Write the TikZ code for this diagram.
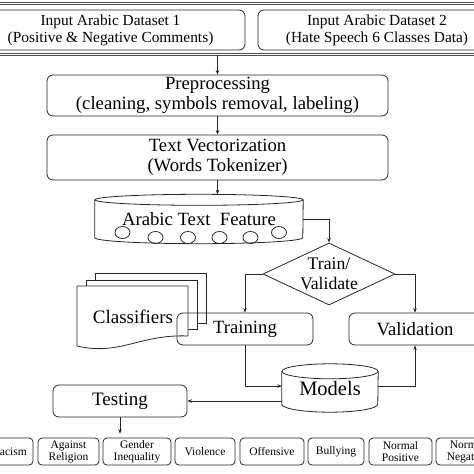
\documentclass[tikz,border=0pt]{standalone}
\usepackage{fontspec}
\setmainfont{Liberation Serif}
\usetikzlibrary{shapes.geometric,arrows.meta,positioning}
\begin{document}
\begin{tikzpicture}[x=1pt,y=-1pt,box/.style={shape=rectangle,draw=black!85,line width=0.8pt,rounded corners=6pt,inner sep=0pt,align=center,font=\fontsize{18.7}{20.5}\selectfont},dbox/.style={box,font=\fontsize{15.4}{17}\selectfont},cbox/.style={box,rounded corners=4pt,minimum height=27pt,font=\fontsize{11.5}{12}\selectfont},frame/.style={draw=black!70,line width=0.6pt,double,double distance=1.6pt},store/.style={shape=rectangle,inner sep=0pt,align=center,font=\fontsize{18.7}{20.5}\selectfont},decide/.style={shape=diamond,draw=black!85,line width=0.8pt,inner sep=0pt},line/.style={draw=black!85,line width=0.8pt},arr/.style={line,-{Stealth[length=4.5pt,width=3.5pt]}},page/.style={line,fill=white}]
\useasboundingbox (0,0) rectangle (474,474);

% inputs
\node[frame,minimum width=520pt,minimum height=51pt] (inputs) at (237,29) {};
\node[dbox,minimum width=269pt,minimum height=40pt] (ds1) at (110.5,30) {Input Arabic Dataset 1\\(Positive \& Negative Comments)};
\node[dbox,minimum width=238pt,minimum height=40pt] (ds2) at (377,30) {Input Arabic Dataset 2\\(Hate Speech 6 Classes Data)};

\node[box,minimum width=341pt,minimum height=41pt] (pre) at (217.5,95.5) {Preprocessing\\(cleaning, symbols removal, labeling)};
\draw[arr] (pre.north |- inputs.south) -- (pre.north);
\node[box,minimum width=341pt,minimum height=45pt] (vec) at (217.5,157.5) {Text Vectorization\\(Words Tokenizer)};
\draw[arr] (pre.south) -- (vec.north);

% feature store
\node[store,minimum width=208pt,minimum height=49pt] (feat) at (199,219) {Arabic Text\ \ Feature};
\draw[line] ([yshift=-5.5pt]feat.north) ellipse[x radius=104,y radius=5.5];
\draw[line] ([yshift=-5.5pt]feat.north west) -- ([yshift=6pt]feat.south west) arc[start angle=180,end angle=0,x radius=104,y radius=6] -- ([yshift=-5.5pt]feat.north east);
\foreach \cx/\cy in {122.5/232.5,155.5/237.5,188/237.5,219.5/237.5,250.5/237.5,279/232.5}
  \draw[line] (\cx,\cy) ellipse[x radius=7.5,y radius=6];
\draw[arr] (vec.south) -- (vec.south |- feat.north);

\node[decide,minimum width=132pt,minimum height=62pt] (tv) at (329,274) {};
\node[align=center,font=\fontsize{17.7}{20}\selectfont] (tvtext) at (tv.center) {Train/\\Validate};
\draw[arr] (feat.east) -| (tv.north);

% classifiers
\draw[page] (95,273) rectangle (206,323);
\draw[page] (86,280) rectangle (197,329);
\draw[page] (77,286) -- (188,286) -- (188,336) .. controls (140,334) and (120,356) .. (77,346) -- cycle;
\node[font=\fontsize{19}{21}\selectfont] (clsf) at (133,317) {Classifiers};

\node[box,minimum width=136pt,minimum height=32pt] (train) at (245,329) {Training};
\node[box,minimum width=132pt,minimum height=32pt] (valid) at (415,329) {Validation};
\draw[arr] (tv.west) -| (train.north);
\draw[arr] (tv.east) -| (valid.north);

% models
\node[store,minimum width=96pt,minimum height=48pt,font=\fontsize{20.5}{22}\selectfont] (models) at (330,388) {Models};
\draw[line] ([yshift=-7.5pt]models.north) ellipse[x radius=48,y radius=7.5];
\draw[line] ([yshift=-7.5pt]models.north west) -- ([yshift=8pt]models.south west) arc[start angle=180,end angle=0,x radius=48,y radius=8] -- ([yshift=-7.5pt]models.north east);
\draw[arr] (train.south) |- ([yshift=2pt]models.west);
\draw[arr] ([yshift=2pt]models.east) -| (valid.south);

\node[box,minimum width=134pt,minimum height=32pt,font=\fontsize{19}{21}\selectfont] (test) at (120,401) {Testing};
\draw[arr] (models.west |- test.east) -- (test.east);

% classes
\node[frame,minimum width=520pt,minimum height=35pt] (cls) at (237,451.5) {};
\draw[arr] (test.south) -- (test.south |- cls.north);
\node[cbox,minimum width=47pt] (racism) at (9.5,451.5) {Racism};
\node[cbox,minimum width=61pt] (relig) at (68.5,451.5) {Against\\Religion};
\node[cbox,minimum width=68pt] (gender) at (137,451.5) {Gender\\Inequality};
\node[cbox,minimum width=60pt] (viol) at (205,451.5) {Violence};
\node[cbox,minimum width=64pt] (offen) at (272,451.5) {Offensive};
\node[cbox,minimum width=56pt] (bully) at (336,451.5) {Bullying};
\node[cbox,minimum width=63pt] (normpos) at (400.5,451.5) {Normal\\Positive};
\node[cbox,minimum width=63pt] (normneg) at (467.5,451.5) {Normal\\Negative};
\end{tikzpicture}
\end{document}
